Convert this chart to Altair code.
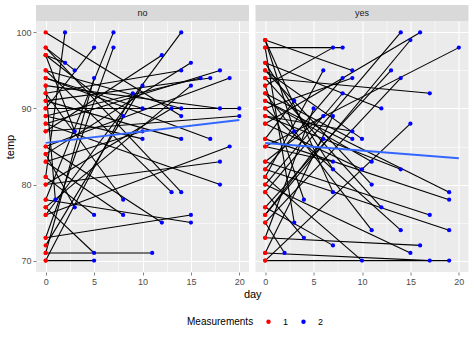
import altair as alt
import pandas as pd

# ---- data ----
groups = ["no", "yes"]

no_temp1 = [81, 78, 76, 90, 73, 87, 97, 84, 98, 92, 88, 71, 89, 91, 85, 77, 72, 70, 97, 94,
            80, 95, 93, 90, 100, 87, 97, 83, 89, 91, 94, 76, 80, 88, 95, 98, 93, 92, 84, 81,
            83, 73, 85, 78, 77, 71, 70]
no_day2 = [2, 7, 14, 5, 7, 12, 2, 15, 3, 14, 18, 5, 16, 17, 19, 15, 10, 9, 8, 10,
           13, 14, 18, 20, 14, 20, 3, 10, 10, 14, 17, 19, 18, 18, 13, 14, 1, 8, 3, 5,
           8, 15, 12, 15, 5, 11, 5]
no_temp2 = [100, 100, 100, 98, 98, 97, 96, 96, 95, 95, 95, 94, 94, 94, 94, 93, 93, 92, 89, 90,
            90, 90, 90, 90, 89, 89, 87, 87, 86, 86, 86, 85, 83, 80, 79, 79, 78, 78, 77, 76,
            76, 76, 75, 75, 71, 71, 70]

yes_temp1 = [79, 88, 76, 93, 98, 85, 81, 99, 77, 82, 90, 75, 80, 94, 86, 96, 73, 83, 71, 70,
             99, 89, 76, 92, 95, 91, 85, 96, 88, 89, 95, 99, 91, 86, 93, 94, 83, 98, 92, 90,
             82, 79, 77, 73, 75, 80, 81, 71, 70]
yes_day2 = [14, 16, 15, 7, 8, 20, 6, 9, 13, 8, 9, 14, 8, 17, 3, 12, 5, 6, 7, 15,
            3, 9, 6, 9, 10, 11, 7, 7, 10, 14, 11, 7, 19, 19, 4, 12, 17, 3, 11, 14,
            19, 4, 7, 16, 2, 15, 10, 17, 19]
yes_temp2 = [100, 100, 99, 98, 98, 98, 95, 95, 95, 94, 94, 94, 92, 92, 91, 90, 90, 89, 89, 88,
             87, 87, 86, 86, 86, 83, 83, 82, 82, 82, 80, 79, 79, 78, 78, 77, 76, 75, 74, 74,
             74, 73, 72, 72, 71, 71, 70, 70, 70]

rows = []
for g, t1, d2, t2 in [("no", no_temp1, no_day2, no_temp2),
                      ("yes", yes_temp1, yes_day2, yes_temp2)]:
    for i, (a, b, c) in enumerate(zip(t1, d2, t2)):
        sid = f"{g}{i}"
        rows.append(dict(group=g, id=sid, measurement="1", day=0, temp=a))
        rows.append(dict(group=g, id=sid, measurement="2", day=b, temp=c))
df = pd.DataFrame(rows)

W, H, SH, GAP = 213, 251, 16, 6.5
FONT = "Liberation Sans"
xvals = [0, 2.5, 5, 7.5, 10, 12.5, 15, 17.5, 20]
yvals = [70, 75, 80, 85, 90, 95, 100]

xgrid_w = {"condition": {"test": "datum.value % 5 !== 0", "value": 0.55}, "value": 1.1}
ygrid_w = {"condition": {"test": "datum.value % 10 !== 0", "value": 0.55}, "value": 1.1}
xtick_o = {"condition": {"test": "datum.value % 5 !== 0", "value": 0}, "value": 1}
ytick_o = {"condition": {"test": "datum.value % 10 !== 0", "value": 0}, "value": 1}


def panel(g, first):
    sub = df[df["group"] == g]
    if first:
        xaxis = alt.Axis(values=xvals, grid=True, gridColor="white", gridWidth=xgrid_w,
                         tickOpacity=xtick_o, labelExpr="datum.value % 5 === 0 ? datum.label : ''",
                         title="day", titleX=W + GAP / 2, titleFontWeight="normal", titleFontSize=11,
                         titleColor="black", titlePadding=2)
        yaxis = alt.Axis(values=yvals, grid=True, gridColor="white", gridWidth=ygrid_w,
                         tickOpacity=ytick_o, labelExpr="datum.value % 10 === 0 ? datum.label : ''",
                         title="temp", titleFontWeight="normal", titleFontSize=11,
                         titleColor="black", titlePadding=0)
    else:
        xaxis = alt.Axis(values=xvals, grid=True, gridColor="white", gridWidth=xgrid_w,
                         tickOpacity=xtick_o, labelExpr="datum.value % 5 === 0 ? datum.label : ''",
                         title="")
        yaxis = alt.Axis(values=yvals, grid=True, gridColor="white", gridWidth=ygrid_w,
                         labels=False, ticks=False, title="")
    x = alt.X("day:Q", scale=alt.Scale(domain=[-1, 21], nice=False, zero=False), axis=xaxis)
    y = alt.Y("temp:Q", scale=alt.Scale(domain=[68.5, 101.5], nice=False, zero=False), axis=yaxis)
    base = alt.Chart(sub)
    lines = base.mark_line(color="black", strokeWidth=1.1).encode(
        x=x, y=y, detail="id:N", order="day:Q")
    pts = base.mark_circle(size=18, opacity=1).encode(
        x=x, y=y,
        color=alt.Color("measurement:N",
                        scale=alt.Scale(domain=["1", "2"], range=["red", "blue"]),
                        legend=alt.Legend(title="Measurements")))
    reg = base.transform_regression("day", "temp").mark_line(
        color="#3366FF", strokeWidth=2).encode(x=x, y=y)
    return alt.layer(lines, pts, reg).properties(width=W, height=H)


def strip(g):
    return alt.Chart(pd.DataFrame({"group": [g]})).mark_text(
        fontSize=9, color="#1A1A1A", font=FONT).encode(
        text="group:N", x=alt.value(W / 2), y=alt.value(SH / 2)).properties(
        width=W, height=SH, view=alt.ViewBackground(fill="#D9D9D9", strokeWidth=0))


chart = alt.concat(
    strip("no"), strip("yes"), panel("no", True), panel("yes", False),
    columns=2, spacing={"row": 0, "column": GAP}, bounds="flush"
).properties(
    padding={"left": 4, "top": 5, "right": 5, "bottom": 5}
).configure_view(fill="#EBEBEB", strokeWidth=0).configure_axis(
    domain=False, labelFont=FONT, titleFont=FONT, labelFontSize=9, labelColor="#4D4D4D",
    tickColor="#333333", tickSize=3, tickWidth=0.6, labelPadding=2
).configure_legend(
    orient="none", legendX=151, legendY=312, direction="horizontal", titleOrient="left",
    titleFont=FONT, labelFont=FONT, titleFontSize=10, titleFontWeight="normal",
    titleColor="black", labelFontSize=9, labelColor="black", symbolType="circle",
    symbolSize=20, symbolStrokeWidth=0, columnPadding=10, titlePadding=10, labelOffset=10
)

chart.save("out.html", embed_options={"renderer": "svg", "actions": False})
